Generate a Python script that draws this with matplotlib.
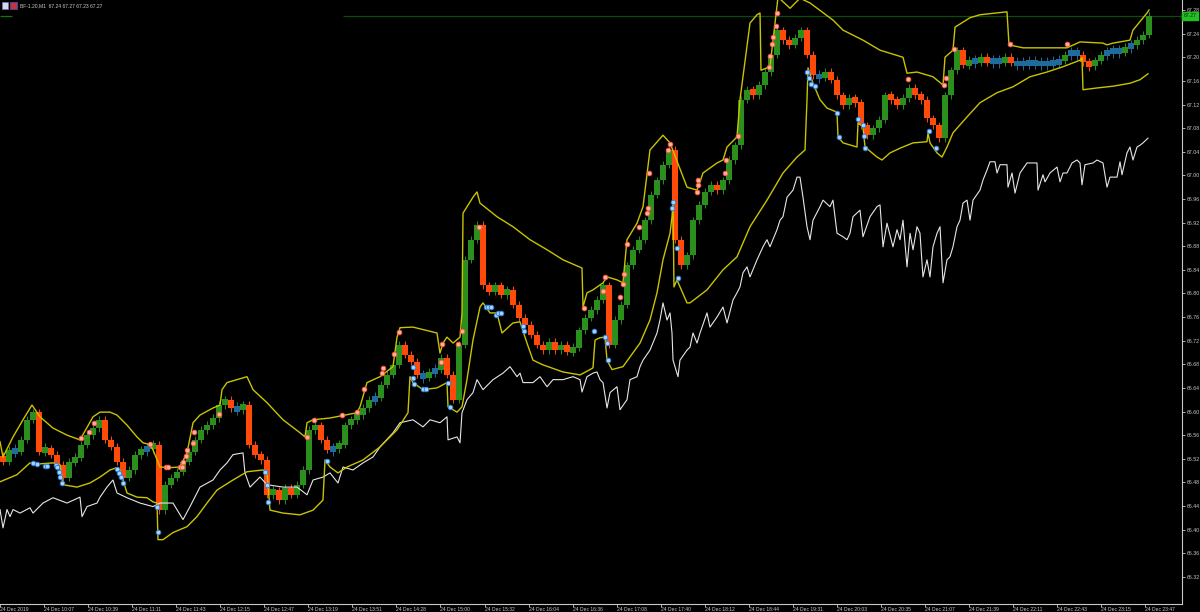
import numpy as np
import matplotlib
matplotlib.use("Agg")
import matplotlib.pyplot as plt
import matplotlib.transforms as mtransforms
from matplotlib.patches import Rectangle

# ---------------- data ----------------
closes = [
    66.515, 66.535, 66.532, 66.552, 66.586, 66.599, 66.532, 66.538, 66.527, 66.510,
    66.488, 66.515, 66.522, 66.544, 66.560, 66.572, 66.586, 66.552, 66.540, 66.515,
    66.488, 66.501, 66.527, 66.535, 66.538, 66.544, 66.433, 66.476, 66.488, 66.498,
    66.515, 66.532, 66.552, 66.569, 66.577, 66.589, 66.611, 66.620, 66.606, 66.603,
    66.611, 66.544, 66.527, 66.518, 66.459, 66.467, 66.450, 66.471, 66.459, 66.476,
    66.501, 66.569, 66.577, 66.552, 66.535, 66.538, 66.544, 66.577, 66.586, 66.594,
    66.606, 66.620, 66.623, 66.645, 66.662, 66.679, 66.713, 66.696, 66.684, 66.662,
    66.657, 66.667, 66.671, 66.691, 66.662, 66.620, 66.713, 66.857, 66.891, 66.916,
    66.814, 66.803, 66.814, 66.798, 66.806, 66.781, 66.759, 66.747, 66.730, 66.713,
    66.704, 66.718, 66.704, 66.713, 66.701, 66.708, 66.738, 66.759, 66.772, 66.789,
    66.814, 66.713, 66.755, 66.781, 66.848, 66.874, 66.891, 66.924, 66.967, 66.992,
    67.018, 67.043, 66.891, 66.848, 66.865, 66.924, 66.950, 66.972, 66.984, 66.975,
    66.992, 67.026, 67.051, 67.128, 67.145, 67.136, 67.153, 67.175, 67.204, 67.246,
    67.229, 67.221, 67.233, 67.246, 67.204, 67.170, 67.165, 67.175, 67.162, 67.136,
    67.119, 67.131, 67.124, 67.085, 67.068, 67.080, 67.094, 67.136, 67.128, 67.119,
    67.131, 67.148, 67.136, 67.128, 67.097, 67.085, 67.063, 67.136, 67.178, 67.212,
    67.187, 67.195, 67.192, 67.199, 67.192, 67.195, 67.192, 67.199, 67.192, 67.187,
    67.192, 67.189, 67.192, 67.187, 67.192, 67.190, 67.195, 67.204, 67.209, 67.204,
    67.192, 67.185, 67.195, 67.204, 67.209, 67.212, 67.209, 67.216, 67.221, 67.229,
    67.238, 67.270,
]
first_open = 66.525

upper_t = [0.0, 0.5, 2.17, 3.83, 5.33, 6.67, 8.83, 11.17, 13.33, 15.5, 16.67, 18.33, 19.5,
           21.17, 22.83, 23.83, 25.0, 25.5, 26.67, 28.33, 30.0, 31.17, 32.17, 33.33, 35.5,
           36.67, 37.0, 37.83, 41.17, 42.17, 44.5, 47.17, 50.0, 50.83, 51.17, 52.17, 55.0,
           59.5, 60.0, 61.17, 63.33, 65.5, 66.17, 66.67, 68.83, 72.83, 73.33, 73.83, 74.5,
           75.5, 76.67, 77.0, 77.17, 78.83, 79.5, 80.0, 82.83, 85.5, 88.33, 91.17, 93.83,
           97.0, 97.17, 97.83, 98.83, 100.5, 101.17, 102.83, 103.83, 104.5, 106.17, 107.17,
           108.33, 110.5, 111.67, 114.5, 116.17, 117.17, 119.5, 120.5, 121.17, 122.83,
           123.33, 125.0, 126.17, 126.67, 126.83, 127.83, 128.33, 129.67, 131.67, 133.33,
           135.0, 138.83, 140.5, 143.83, 146.67, 150.5, 151.17, 152.83, 155.5, 157.17,
           157.5, 158.83, 159.17, 161.67, 163.33, 167.83, 168.17, 170.5, 173.83, 177.83,
           180.0, 183.83, 184.5, 185.5, 188.33, 188.83, 191.17, 191.5]
upper_v = [66.549, 66.523, 66.557, 66.586, 66.611, 66.591, 66.572, 66.560, 66.552, 66.591,
           66.599, 66.599, 66.594, 66.577, 66.557, 66.547, 66.544, 66.535, 66.506, 66.505,
           66.506, 66.530, 66.581, 66.594, 66.606, 66.611, 66.637, 66.649, 66.659, 66.637,
           66.615, 66.586, 66.564, 66.557, 66.581, 66.586, 66.589, 66.598, 66.608, 66.649,
           66.659, 66.676, 66.726, 66.742, 66.743, 66.733, 66.699, 66.716, 66.726, 66.716,
           66.726, 66.767, 66.936, 66.963, 66.972, 66.953, 66.930, 66.913, 66.891, 66.874,
           66.857, 66.843, 66.777, 66.801, 66.806, 66.818, 66.828, 66.823, 66.818, 66.891,
           66.919, 66.947, 67.043, 67.068, 67.055, 66.980, 66.975, 67.004, 67.021, 67.026,
           67.048, 67.065, 67.128, 67.258, 67.272, 67.275, 67.178, 67.182, 67.184, 67.302,
           67.283, 67.300, 67.292, 67.263, 67.246, 67.229, 67.212, 67.200, 67.173, 67.175,
           67.167, 67.153, 67.200, 67.212, 67.251, 67.267, 67.272, 67.277, 67.221, 67.216,
           67.216, 67.216, 67.226, 67.224, 67.221, 67.224, 67.229, 67.246, 67.275, 67.280]

lower_t = [0.0, 2.83, 5.0, 6.17, 8.83, 10.0, 10.5, 12.83, 15.0, 16.67, 18.33, 19.5, 20.0,
           20.5, 21.17, 22.83, 24.5, 25.5, 26.17, 26.33, 27.17, 28.83, 31.17, 32.83, 34.5,
           36.17, 38.83, 41.17, 43.83, 44.5, 45.0, 47.17, 50.0, 52.17, 53.83, 54.17, 55.0,
           56.33, 57.83, 60.5, 63.33, 66.17, 68.0, 68.33, 68.83, 70.5, 72.83, 74.5, 74.67,
           76.17, 77.0, 77.83, 78.83, 80.0, 80.5, 81.67, 82.83, 83.67, 85.5, 86.67, 87.83,
           88.83, 90.5, 93.83, 96.67, 98.33, 98.83, 99.17, 100.0, 100.83, 101.17, 102.0,
           103.83, 106.67, 108.33, 109.5, 110.5, 111.67, 112.0, 112.17, 112.33, 112.83,
           114.5, 115.0, 117.83, 120.5, 122.83, 125.0, 127.83, 130.5, 132.83, 134.17, 134.5,
           134.67, 135.5, 136.67, 137.83, 139.5, 139.67, 140.5, 142.83, 143.0, 143.83,
           144.17, 146.17, 147.0, 148.33, 150.0, 152.17, 154.5, 154.67, 155.0, 156.17,
           157.0, 157.83, 158.83, 161.17, 163.33, 166.17, 168.83, 171.67, 174.5, 177.17,
           180.0, 180.33, 180.5, 182.83, 185.5, 188.33, 190.0, 191.33]
lower_v = [66.481, 66.493, 66.513, 66.511, 66.513, 66.510, 66.476, 66.472, 66.479, 66.489,
           66.501, 66.505, 66.501, 66.484, 66.462, 66.455, 66.454, 66.447, 66.445, 66.383,
           66.383, 66.395, 66.405, 66.422, 66.445, 66.467, 66.484, 66.498, 66.501, 66.498,
           66.433, 66.428, 66.425, 66.433, 66.450, 66.518, 66.506, 66.496, 66.506, 66.518,
           66.540, 66.569, 66.598, 66.659, 66.649, 66.637, 66.640, 66.649, 66.608, 66.599,
           66.608, 66.654, 66.721, 66.777, 66.784, 66.767, 66.767, 66.733, 66.750, 66.752,
           66.716, 66.687, 66.679, 66.667, 66.662, 66.671, 66.674, 66.721, 66.725, 66.726,
           66.687, 66.671, 66.676, 66.716, 66.755, 66.801, 66.857, 66.902, 66.930, 66.958,
           66.811, 66.823, 66.784, 66.784, 66.806, 66.840, 66.862, 66.913, 66.958, 67.004,
           67.031, 67.043, 67.128, 67.182, 67.156, 67.128, 67.114, 67.107, 67.065, 67.055,
           67.048, 67.089, 67.082, 67.048, 67.031, 67.026, 67.038, 67.046, 67.055, 67.057,
           67.072, 67.055, 67.038, 67.031, 67.048, 67.072, 67.099, 67.123, 67.140, 67.150,
           67.167, 67.175, 67.184, 67.195, 67.199, 67.145, 67.148, 67.151, 67.156, 67.162,
           67.172]

white_t = [0.0, 0.5, 1.17, 1.67, 2.17, 3.33, 5.0, 5.5, 7.17, 8.83, 11.17, 13.33, 13.67,
           14.5, 16.17, 16.67, 17.83, 18.83, 19.5, 21.17, 23.33, 25.5, 26.67, 28.83, 30.5,
           31.67, 33.33, 35.5, 36.67, 37.83, 38.83, 40.5, 40.83, 41.67, 43.33, 44.5, 47.17,
           49.5, 51.17, 52.17, 53.83, 55.0, 56.33, 57.17, 58.83, 60.5, 62.17, 63.33, 65.5,
           66.67, 68.83, 70.5, 71.67, 73.33, 74.5, 74.67, 76.17, 76.67, 77.0, 77.83, 78.83,
           79.5, 80.5, 82.17, 83.83, 85.0, 86.17, 86.67, 87.17, 88.83, 90.0, 91.17, 92.17,
           93.83, 95.5, 96.67, 97.0, 97.83, 98.83, 99.5, 100.0, 100.5, 101.17, 101.67,
           102.83, 103.33, 104.5, 105.0, 106.17, 106.67, 107.17, 108.33, 109.5, 110.0,
           110.5, 111.17, 111.67, 112.0, 112.17, 113.0, 113.33, 114.5, 115.0, 115.5, 116.17,
           116.67, 117.83, 118.33, 119.5, 120.5, 121.17, 122.17, 122.83, 123.33, 123.83,
           124.5, 125.0, 126.17, 127.17, 127.83, 128.33, 129.5, 130.0, 130.5, 131.17,
           132.17, 132.83, 133.33, 133.83, 134.5, 135.0, 135.5, 136.67, 137.17, 138.33,
           138.83, 139.5, 140.5, 141.17, 141.67, 142.17, 143.33, 143.83, 145.0, 146.17,
           146.67, 147.17, 147.83, 148.83, 149.5, 150.0, 150.5, 151.17, 151.67, 152.17,
           152.83, 153.33, 153.83, 154.5, 155.0, 155.5, 156.17, 156.67, 157.17, 157.83,
           158.33, 158.83, 159.5, 160.0, 160.5, 161.17, 161.67, 162.17, 163.33, 163.83,
           164.5, 165.0, 165.83, 166.17, 166.67, 167.83, 168.0, 168.67, 169.17, 170.0,
           171.17, 172.83, 173.0, 173.83, 174.17, 175.0, 176.17, 176.67, 177.17, 177.83,
           178.67, 179.5, 180.0, 180.33, 180.83, 182.17, 182.83, 183.83, 184.5, 185.0,
           186.17, 186.67, 187.0, 187.83, 188.33, 188.83, 189.5, 190.0, 190.5, 191.33]
white_v = [66.434, 66.403, 66.434, 66.422, 66.434, 66.428, 66.437, 66.428, 66.445, 66.454,
           66.445, 66.455, 66.422, 66.439, 66.445, 66.455, 66.472, 66.484, 66.462, 66.454,
           66.445, 66.439, 66.445, 66.445, 66.417, 66.439, 66.472, 66.484, 66.501, 66.513,
           66.527, 66.530, 66.496, 66.472, 66.489, 66.476, 66.472, 66.472, 66.459, 66.484,
           66.489, 66.496, 66.479, 66.506, 66.501, 66.513, 66.523, 66.540, 66.564, 66.581,
           66.586, 66.574, 66.586, 66.581, 66.591, 66.552, 66.557, 66.547, 66.598, 66.620,
           66.632, 66.654, 66.637, 66.654, 66.665, 66.676, 66.659, 66.665, 66.649, 66.649,
           66.659, 66.642, 66.654, 66.654, 66.659, 66.654, 66.633, 66.659, 66.665, 66.667,
           66.654, 66.649, 66.606, 66.632, 66.642, 66.603, 66.620, 66.654, 66.659, 66.676,
           66.687, 66.704, 66.733, 66.755, 66.784, 66.755, 66.767, 66.733, 66.687, 66.659,
           66.687, 66.704, 66.709, 66.733, 66.716, 66.733, 66.767, 66.743, 66.760, 66.777,
           66.750, 66.789, 66.801, 66.811, 66.835, 66.845, 66.828, 66.857, 66.879, 66.891,
           66.879, 66.908, 66.924, 66.930, 66.963, 66.975, 66.997, 66.997, 66.963, 66.913,
           66.891, 66.924, 66.947, 66.958, 66.947, 66.958, 66.902, 66.896, 66.891, 66.902,
           66.930, 66.941, 66.896, 66.930, 66.947, 66.950, 66.879, 66.919, 66.879, 66.908,
           66.891, 66.924, 66.845, 66.902, 66.874, 66.913, 66.902, 66.828, 66.857, 66.828,
           66.879, 66.902, 66.913, 66.818, 66.857, 66.862, 66.879, 66.913, 66.924, 66.953,
           66.958, 66.924, 66.958, 66.975, 66.992, 67.009, 67.023, 67.023, 67.004, 67.018,
           67.018, 66.980, 67.004, 66.970, 67.004, 67.021, 67.021, 66.975, 67.001, 66.989,
           67.004, 67.014, 66.989, 67.004, 67.004, 67.021, 67.026, 67.021, 66.984, 67.018,
           67.021, 67.026, 67.021, 66.980, 66.997, 66.997, 67.023, 67.001, 67.038, 67.048,
           67.026, 67.048, 67.051, 67.055, 67.063]

up_dot_t = [13.5, 14.83, 15.67, 25.0, 27.67, 28.0, 30.0, 30.33, 30.5, 31.0, 31.17, 32.17,
            32.33, 36.5, 51.17, 52.33, 57.0, 59.5, 60.67, 63.67, 63.83, 65.67, 66.5, 73.5,
            73.67, 76.33, 77.0, 79.83, 97.33, 100.5, 100.83, 103.33, 103.83, 104.0, 104.5,
            106.5, 107.83, 108.0, 108.17, 111.33, 111.67, 116.17, 116.33, 116.33, 120.83,
            121.0, 123.0, 128.17, 128.33, 128.67, 128.83, 129.33, 129.5, 151.33, 157.33,
            157.67, 159.0, 168.33, 177.83]
up_dot_v = [66.555, 66.566, 66.581, 66.545, 66.506, 66.506, 66.506, 66.506, 66.515, 66.525,
            66.535, 66.547, 66.566, 66.596, 66.557, 66.586, 66.594, 66.599, 66.638, 66.665,
            66.674, 66.698, 66.735, 66.684, 66.715, 66.715, 66.737, 66.913, 66.775, 66.804,
            66.828, 66.794, 66.816, 66.833, 66.884, 66.913, 66.936, 66.945, 67.004, 67.043,
            67.053, 66.972, 66.984, 66.992, 67.004, 67.026, 67.067, 67.184, 67.202, 67.222,
            67.234, 67.253, 67.275, 67.163, 67.153, 67.165, 67.214, 67.223, 67.223]

dn_dot_t = [5.5, 6.17, 7.5, 7.83, 9.33, 9.5, 9.83, 10.0, 10.33, 19.5, 19.83, 20.17, 20.5,
            26.17, 26.33, 44.17, 44.5, 44.67, 54.5, 68.83, 68.83, 69.0, 70.5, 71.0, 74.67,
            75.0, 81.0, 81.33, 81.83, 82.67, 83.0, 83.5, 87.17, 87.33, 99.0, 100.83, 101.17,
            101.33, 112.0, 112.17, 112.83, 113.0, 134.5, 134.83, 135.17, 135.83, 139.5,
            139.83, 143.0, 143.83, 144.0, 144.17, 154.83, 156.0]
dn_dot_v = [66.513, 66.511, 66.508, 66.508, 66.510, 66.506, 66.498, 66.489, 66.479, 66.503,
            66.496, 66.489, 66.479, 66.439, 66.396, 66.498, 66.476, 66.447, 66.516, 66.676,
            66.657, 66.647, 66.638, 66.638, 66.649, 66.608, 66.777, 66.777, 66.777, 66.764,
            66.767, 66.767, 66.745, 66.737, 66.737, 66.726, 66.716, 66.687, 66.945, 66.955,
            66.877, 66.826, 67.175, 67.165, 67.155, 67.151, 67.106, 67.065, 67.096, 67.085,
            67.067, 67.046, 67.075, 67.046]

x_labels = ["24 Dec 2019", "24 Dec 10:07", "24 Dec 10:39", "24 Dec 11:11", "24 Dec 11:43",
            "24 Dec 12:15", "24 Dec 12:47", "24 Dec 13:19", "24 Dec 13:51", "24 Dec 14:28",
            "24 Dec 15:00", "24 Dec 15:32", "24 Dec 16:04", "24 Dec 16:36", "24 Dec 17:08",
            "24 Dec 17:40", "24 Dec 18:12", "24 Dec 18:44", "24 Dec 19:31", "24 Dec 20:03",
            "24 Dec 20:35", "24 Dec 21:07", "24 Dec 21:39", "24 Dec 22:11", "24 Dec 22:43",
            "24 Dec 23:15", "24 Dec 23:47"]
y_ticks = [66.32, 66.36, 66.40, 66.44, 66.48, 66.52, 66.56, 66.60, 66.64, 66.68, 66.72,
           66.76, 66.80, 66.84, 66.88, 66.92, 66.96, 67.00, 67.04, 67.08, 67.12, 67.16,
           67.20, 67.24, 67.28]
last_price = 67.27
header = "BF-1.20,M1  67.24 67.27 67.23 67.27"

# ---------------- figure ----------------
BG = "#000000"
FG = "#c8c8c8"
fig = plt.figure(figsize=(12, 6.12), dpi=100, facecolor=BG)
ax = fig.add_axes([0, 8 / 612, 1182 / 1200, 604 / 612], facecolor=BG)
ax.set_xlim(0, 1182 / 6)
ax.set_ylim(66.274, 67.297)

closes_a = np.array(closes)
opens_a = np.r_[first_open, closes_a[:-1]]
idx = np.arange(len(closes_a)) + 0.5
diff = closes_a - opens_a
cols = np.where(np.abs(diff) < 0.006, "#1f6c9c",
                np.where(diff > 0, "#2a8f1c", "#ff4a0a"))
MIN_H = 0.010
mid = (opens_a + closes_a) / 2
heights = np.maximum(np.abs(diff), MIN_H)
bottoms = mid - heights / 2
WICK = 0.006
ax.vlines(idx, bottoms - WICK, bottoms + heights + WICK, colors=cols, lw=0.7, zorder=2)
ax.bar(idx, heights, bottom=bottoms, width=0.85, color=cols, linewidth=0, zorder=2)

ax.plot(white_t, white_v, color="#e6e6e6", lw=0.8, zorder=3)
ax.plot(upper_t, upper_v, color="#c8c400", lw=1.0, zorder=4)
ax.plot(lower_t, lower_v, color="#c8c400", lw=1.0, zorder=4)

ax.plot(up_dot_t, up_dot_v, ls="none", marker="o", ms=3.3, mfc="#ffb0a0",
        mec="#ff5a40", mew=0.7, zorder=5)
ax.plot(dn_dot_t, dn_dot_v, ls="none", marker="o", ms=3.3, mfc="#a8d4ff",
        mec="#2f80d8", mew=0.7, zorder=5)

# current price line and marker
ax.hlines(last_price, 343 / 6, 1182 / 6, color="#0d4a0d", lw=0.9, zorder=1)
ax.hlines(last_price, 0, 12 / 6, color="#0d7a0d", lw=0.9, zorder=1)

# axes styling
for s in ["top", "left"]:
    ax.spines[s].set_visible(False)
for s in ["right", "bottom"]:
    ax.spines[s].set_color(FG)
    ax.spines[s].set_linewidth(0.8)
ax.yaxis.tick_right()
ax.set_yticks(y_ticks)
ax.set_yticklabels([f"{v:.2f}" for v in y_ticks])
ax.tick_params(axis="y", colors=FG, length=2.5, width=0.6, pad=1.0,
               labelsize=3.8, labelcolor=FG)
for lab in ax.get_yticklabels():
    lab.set_family("Liberation Sans")

xt = np.arange(len(x_labels)) * (44.05 / 6)
ax.set_xticks(xt)
ax.set_xticklabels(x_labels)
ax.tick_params(axis="x", colors=FG, length=2.0, width=0.6, pad=0.5,
               labelsize=3.6, labelcolor=FG)
for lab in ax.get_xticklabels():
    lab.set_ha("left")
    lab.set_family("Liberation Sans")

trans = mtransforms.blended_transform_factory(ax.transAxes, ax.transData)
ax.text(1.0015, last_price, f"{last_price:.2f}", transform=trans, ha="left", va="center",
        fontsize=3.8, family="Liberation Sans", color="#0a2a0a",
        bbox=dict(boxstyle="square,pad=0.25", fc="#22c022", ec="#22c022"), zorder=10,
        clip_on=False)

# header
fig.patches.append(Rectangle((2 / 1200, 1 - 9 / 612), 6 / 1200, 7 / 612,
                             transform=fig.transFigure, fc="#d8d8f0", ec="#8080c0", lw=0.4))
fig.patches.append(Rectangle((10 / 1200, 1 - 9 / 612), 7 / 1200, 7 / 612,
                             transform=fig.transFigure, fc="#d03030", ec="#3050c0", lw=0.6))
fig.text(20 / 1200, 1 - 5.5 / 612, header, ha="left", va="center", fontsize=3.6,
         family="Liberation Sans", color=FG)

fig.savefig("out.png", dpi=100, facecolor=BG)
